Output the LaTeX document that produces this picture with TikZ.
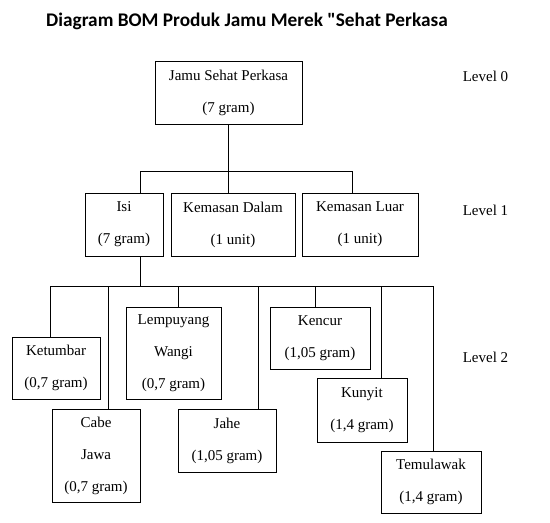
\documentclass[tikz,border=0pt]{standalone}
\usepackage{fontspec}
\setmainfont{Liberation Serif}
\newfontfamily\titlefont{Carlito}
\begin{document}
\begin{tikzpicture}[x=1pt,y=-1pt,line width=0.8pt,
  box/.style={draw,inner sep=0pt,align=center,font=\fontsize{15}{32}\selectfont},
  lvl/.style={font=\fontsize{15}{32}\selectfont}]
\useasboundingbox (0,0) rectangle (550,523);
\node[font=\titlefont\bfseries\fontsize{19.3}{22}\selectfont] (title) at (247,21) {Diagram BOM Produk Jamu Merek "Sehat Perkasa};
\node[box,minimum width=147,minimum height=63] (jamu) at (228.5,92.5) {Jamu Sehat Perkasa\\(7 gram)};
\node[box,minimum width=78,minimum height=63] (isi) at (124,224.5) {Isi\\(7 gram)};
\node[box,minimum width=124,minimum height=63] (dalam) at (233,224.5) {Kemasan Dalam\\(1 unit)};
\node[box,minimum width=116,minimum height=63] (luar) at (360,224.5) {Kemasan Luar\\(1 unit)};
\node[box,minimum width=88,minimum height=62] (ketumbar) at (56,368) {Ketumbar\\(0,7 gram)};
\node[box,minimum width=88,minimum height=93] (cabe) at (96,455.5) {Cabe\\Jawa\\(0,7 gram)};
\node[box,minimum width=95,minimum height=92] (lempuyang) at (173.5,353) {Lempuyang\\Wangi\\(0,7 gram)};
\node[box,minimum width=98,minimum height=63] (jahe) at (227,440.5) {Jahe\\(1,05 gram)};
\node[box,minimum width=100,minimum height=62] (kencur) at (320,338) {Kencur\\(1,05 gram)};
\node[box,minimum width=90,minimum height=64] (kunyit) at (362,410) {Kunyit\\(1,4 gram)};
\node[box,minimum width=100,minimum height=62] (temulawak) at (431,482) {Temulawak\\(1,4 gram)};
\node[lvl] (lv0) at (485.5,76) {Level 0}; \node[lvl] (lv1) at (485.5,210) {Level 1}; \node[lvl] (lv2) at (485.5,357) {Level 2};
\coordinate (a1) at (140,171); \coordinate (a3) at (352,171); \coordinate (b0) at (140,286);
\draw (a1) -- (a3); \draw (jamu.south) -- (jamu.south |- dalam.north);
\draw (a1) -- (a1 |- isi.north); \draw (a3) -- (a3 |- luar.north); \draw (isi.south -| b0) -- (b0);
\foreach \n/\x [count=\i] in {ketumbar/50,cabe/108,lempuyang/178,jahe/258,kencur/315,kunyit/381,temulawak/433}
  \coordinate (b\i) at (\x,286);
\draw (b1) -- (b7);
\foreach \n [count=\i] in {ketumbar,cabe,lempuyang,jahe,kencur,kunyit,temulawak}
  \draw (b\i) -- (b\i |- \n.north);
\end{tikzpicture}
\end{document}
